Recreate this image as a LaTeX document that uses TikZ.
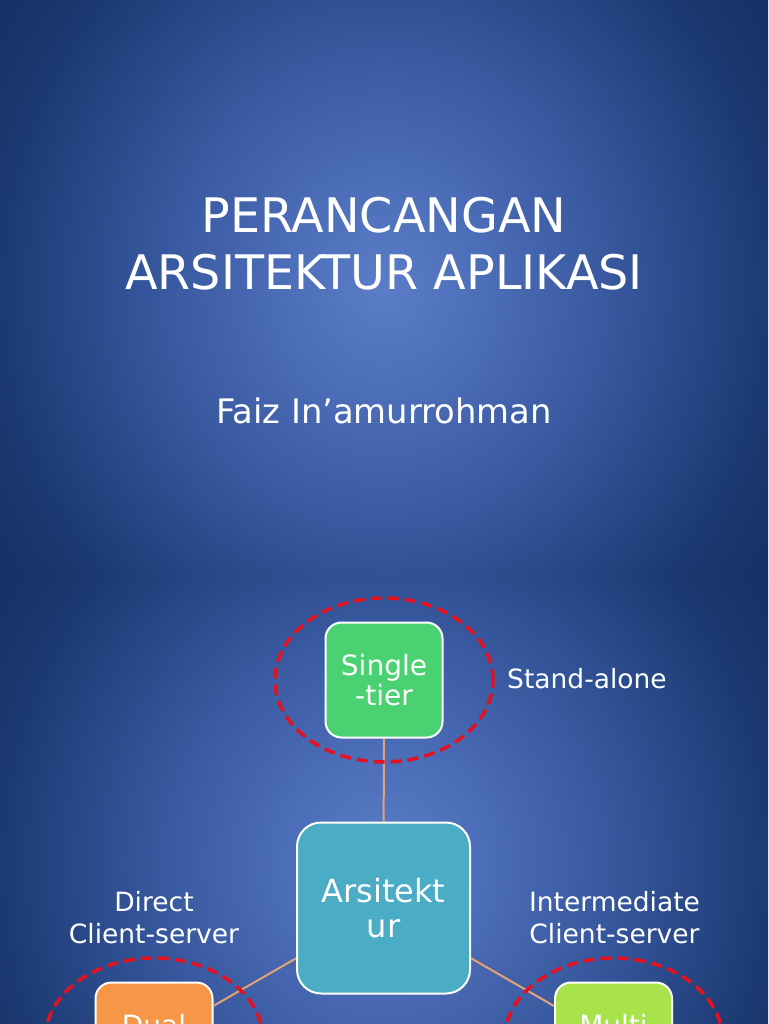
\documentclass[tikz,border=0pt]{standalone}
\usepackage{fontspec}
\setmainfont{DejaVu Sans}
\usetikzlibrary{shapes.geometric}
\definecolor{bgA}{HTML}{5B7DC7}
\definecolor{bgB}{HTML}{4B6CB6}
\definecolor{bgC}{HTML}{34549A}
\definecolor{bgD}{HTML}{1C3A72}
\definecolor{bgE}{HTML}{0C2855}
\definecolor{greenbox}{HTML}{4AD272}
\definecolor{tealbox}{HTML}{4BACC6}
\definecolor{orangebox}{HTML}{F79646}
\definecolor{limebox}{HTML}{A8E34C}
\definecolor{connclr}{RGB}{228,162,118}
\definecolor{ringred}{HTML}{E3121E}
\pgfdeclareradialshading{slidebg}{\pgfpoint{0bp}{0bp}}{color(0bp)=(bgA); color(7bp)=(bgB); color(16bp)=(bgC); color(25bp)=(bgD); color(36bp)=(bgE); color(50bp)=(bgE)}
\begin{document}
\begin{tikzpicture}[x=1pt,y=-1pt,
  boxsmall/.style={draw=white, line width=2pt, rounded corners=16pt, minimum width=117pt, minimum height=115pt, inner sep=0pt, text=white, align=center, font=\fontsize{28}{30}\selectfont},
  boxbig/.style={draw=white, line width=2pt, rounded corners=24pt, minimum width=173pt, minimum height=171pt, inner sep=0pt, text=white, align=center, font=\fontsize{32}{35}\selectfont},
  conn/.style={draw=connclr, line width=2pt},
  ring/.style={draw=ringred, line width=3.5pt, dash pattern=on 11pt off 6pt},
  lbl/.style={text=white, inner sep=0pt, align=center, font=\fontsize{26.5}{32}\selectfont}]
\useasboundingbox (0,0) rectangle (768,1024);
\clip (0,0) rectangle (768,1024);
% backgrounds
\begin{scope}
  \clip (0,0) rectangle (768,576);
  \shade[shading=slidebg] (0,-130) rectangle (768,706);
\end{scope}
\begin{scope}
  \clip (0,576) rectangle (768,1152);
  \shade[shading=slidebg] (0,446) rectangle (768,1282);
\end{scope}
% slide 1 texts
\node[text=white, inner sep=0pt, align=center, font=\fontsize{47.6}{57}\selectfont] (title) at (384,244) {PERANCANGAN\\ARSITEKTUR APLIKASI};
\node[text=white, inner sep=0pt, anchor=base, font=\fontsize{33.8}{40}\selectfont] (author) at (384,423) {Faiz In’amurrohman};
% slide 2 nodes
\node[boxsmall, fill=greenbox] (single) at (384,680) {Single\\-tier};
\node[boxbig, fill=tealbox] (arch) at (383.5,908) {Arsitekt\\ur};
\node[boxsmall, fill=orangebox] (dual) at (154,1040) {Dual\\\phantom{-tier}};
\node[boxsmall, fill=limebox] (multi) at (613.5,1040) {Multi\\\phantom{-tier}};
% connectors
\draw[conn] (single) -- (arch);
\draw[conn] (arch) -- (dual);
\draw[conn] (arch) -- (multi);
% rings
\draw[ring] (single.center) ellipse [x radius=109pt, y radius=82pt];
\draw[ring] (dual.center) ellipse [x radius=109pt, y radius=82pt];
\draw[ring] (multi.center) ellipse [x radius=109pt, y radius=82pt];
% labels
\node[lbl, anchor=base west] (standalone) at (507,688) {Stand-alone};
\node[lbl] (direct) at (154,917.5) {Direct\\Client-server};
\node[lbl] (intermediate) at (614.5,917.5) {Intermediate\\Client-server};
\end{tikzpicture}
\end{document}
